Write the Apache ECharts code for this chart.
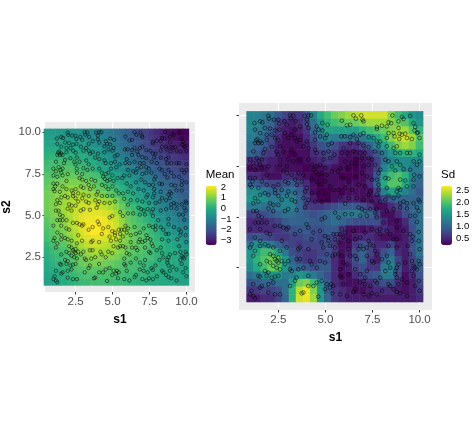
<!DOCTYPE html>
<html><head><meta charset="utf-8">
<style>html,body{margin:0;padding:0;background:#fff}#c{width:474px;height:442px}</style>
<script src="https://cdn.jsdelivr.net/npm/echarts@6/dist/echarts.min.js"></script>
</head><body><div id="c"></div>
<script>
const gridLevels=[1,1.375,1.75,2.125,2.5,2.875,3.25,3.625,4,4.375,4.75,5.125,5.5,5.875,6.25,6.625,7,7.375,7.75,8.125,8.5,8.875,9.25,9.625,10];
const axisTicks=[2.5,5,7.5,10];
const meanTicks=[-3,-2,-1,0,1,2];
const sdTicks=[0.5,1,1.5,2,2.5];
const viridis=['#440154','#472d7b','#3b528b','#2c728e','#21908c','#27ad81','#5dc863','#aadc32','#fde725'];

// rows run from s2 = 10 (top) down to s2 = 1; columns from s1 = 1 to s1 = 10
const meanRows=[
[-.4,-.4,-.5,-.5,-.6,-.6,-.7,-.8,-.9,-1,-1.1,-1.2,-1.4,-1.6,-1.8,-2,-2.2,-2.4,-2.6,-2.8,-3,-3.2,-3.3,-3.4,-3.4],
[-.3,-.3,-.4,-.4,-.5,-.5,-.6,-.7,-.8,-.9,-1,-1.1,-1.3,-1.5,-1.7,-1.9,-2.1,-2.3,-2.5,-2.7,-2.9,-3.1,-3.2,-3.3,-3.3],
[-.2,-.2,-.2,-.2,-.3,-.3,-.4,-.5,-.6,-.7,-.8,-1,-1.2,-1.4,-1.6,-1.8,-2,-2.2,-2.4,-2.6,-2.7,-2.9,-3,-3.1,-3.2],
[0,0,0,0,-.1,-.1,-.2,-.3,-.4,-.5,-.7,-.9,-1.1,-1.3,-1.5,-1.7,-1.9,-2.1,-2.2,-2.4,-2.5,-2.7,-2.8,-2.9,-3],
[.1,.2,.2,.2,.1,.1,0,-.1,-.2,-.4,-.5,-.7,-.9,-1.1,-1.3,-1.5,-1.7,-1.9,-2,-2.2,-2.3,-2.5,-2.6,-2.7,-2.8],
[.3,.4,.4,.4,.4,.3,.2,.1,0,-.2,-.4,-.5,-.7,-.9,-1.1,-1.3,-1.5,-1.7,-1.8,-2,-2.1,-2.3,-2.4,-2.5,-2.6],
[.4,.5,.6,.6,.6,.5,.4,.3,.2,0,-.2,-.4,-.6,-.7,-.9,-1.1,-1.3,-1.5,-1.6,-1.8,-1.9,-2.1,-2.2,-2.3,-2.4],
[.6,.6,.7,.8,.8,.8,.7,.6,.5,.4,.2,0,-.2,-.4,-.5,-.7,-.9,-1.1,-1.3,-1.6,-1.8,-1.9,-2,-2.1,-2.2],
[.7,.8,.9,1,1,1,1,.9,.8,.6,.4,.2,0,-.2,-.3,-.5,-.7,-.9,-1.1,-1.4,-1.6,-1.7,-1.8,-1.9,-2],
[.8,.9,1,1.1,1.2,1.2,1.2,1.1,1,.8,.7,.5,.3,.1,-.1,-.3,-.5,-.7,-.9,-1.2,-1.4,-1.5,-1.7,-1.8,-1.9],
[.9,1,1.1,1.2,1.3,1.4,1.4,1.3,1.2,1.1,.9,.7,.5,.3,.1,-.1,-.3,-.5,-.7,-1.1,-1.2,-1.4,-1.5,-1.7,-1.8],
[.9,1,1.1,1.3,1.4,1.5,1.6,1.6,1.5,1.5,1.3,1.2,.9,.6,.3,.1,-.1,-.3,-.5,-.9,-1.1,-1.3,-1.4,-1.6,-1.7],
[.9,1,1.2,1.3,1.5,1.6,1.7,1.7,1.8,1.7,1.6,1.4,1.1,.8,.5,.3,.1,-.1,-.3,-.8,-1,-1.2,-1.3,-1.5,-1.6],
[.8,1,1.1,1.3,1.5,1.7,1.8,1.9,1.9,1.9,1.8,1.7,1.4,1,.7,.4,.2,0,-.2,-.6,-.8,-1,-1.2,-1.3,-1.5],
[.7,.9,1,1.2,1.4,1.7,1.9,2,2,2.05,2,1.8,1.6,1.2,.8,.6,.4,.2,0,-.3,-.6,-.8,-1,-1.2,-1.3],
[.6,.8,1,1.1,1.4,1.6,1.9,2,2.1,2.1,2,1.9,1.7,1.3,.9,.7,.5,.4,.2,-.1,-.4,-.6,-.8,-1,-1.1],
[.5,.7,.9,1,1.3,1.5,1.8,2,2.1,2.1,2,1.9,1.7,1.3,1,.8,.6,.5,.3,.1,-.2,-.4,-.6,-.7,-.9],
[.4,.6,.8,.9,1.1,1.4,1.7,1.8,1.9,1.9,1.8,1.7,1.6,1.2,1,.8,.7,.6,.4,.2,0,-.2,-.4,-.5,-.7],
[.2,.4,.6,.7,1,1.2,1.4,1.6,1.7,1.7,1.6,1.5,1.3,1.1,.9,.8,.7,.6,.5,.3,.1,-.1,-.2,-.4,-.5],
[.1,.3,.4,.5,.8,1,1.2,1.3,1.4,1.5,1.4,1.3,1.2,1,.8,.7,.6,.5,.4,.2,.1,0,-.1,-.2,-.3],
[0,.2,.3,.4,.5,.7,.9,1.1,1.2,1.2,1.2,1.1,1,.8,.7,.6,.5,.4,.4,.2,.1,0,-.1,-.2,-.3],
[-.1,.1,.2,.3,.5,.7,.8,.9,1,1,.9,.8,.7,.6,.5,.4,.4,.3,.2,.1,0,0,-.1,-.2,-.2],
[-.1,0,.1,.2,.3,.5,.6,.7,.7,.7,.7,.6,.6,.5,.4,.4,.3,.2,.1,.1,0,-.1,-.1,-.2,-.2],
[-.2,-.1,0,.1,.2,.3,.4,.5,.5,.5,.5,.5,.4,.4,.3,.3,.2,.2,.1,0,0,-.1,-.2,-.2,-.3],
[-.3,-.2,-.1,0,.1,.2,.3,.3,.4,.4,.4,.3,.3,.3,.2,.2,.1,.1,0,0,-.1,-.1,-.2,-.3,-.3]
];
const sdRows=[
[1.3,1.3,1.2,1.1,.9,.7,.6,.6,.8,1.3,1.7,1.9,2.1,2.2,2.3,2.4,2.5,2.5,2.5,2.5,2.2,1.9,1.7,1.5,1.4],
[1.3,1.3,1.1,1,.7,.5,.4,.5,.7,1.1,1.5,1.8,1.9,2,2.1,2.1,2.2,2.3,2.3,2.3,2.2,2.1,2,1.7,1.5],
[1.3,1.2,1.1,.9,.6,.4,.3,.4,.6,1,1.3,1.6,1.6,1.6,1.6,1.6,1.8,1.9,2,2.1,2.2,2.3,2.3,2,1.8],
[1.2,1.2,1,.8,.5,.3,.3,.3,.5,.8,1.1,1.3,1.2,1.2,1.1,1.1,1.2,1.4,1.7,1.9,2.2,2.4,2.5,2.3,2],
[1.1,1,.9,.7,.4,.3,.3,.3,.4,.6,.8,.9,.8,.6,.5,.5,.7,1,1.3,1.6,1.9,2.2,2.3,2.2,1.9],
[1,.9,.7,.6,.4,.3,.2,.3,.3,.5,.6,.7,.6,.4,.3,.3,.4,.6,.9,1.2,1.5,1.7,1.8,1.8,1.7],
[.5,.5,.5,.4,.4,.3,.3,.2,.3,.4,.5,.6,.5,.3,.3,.2,.3,.4,.7,1.1,1.3,1.4,1.4,1.4,1.4],
[.3,.3,.3,.4,.3,.3,.3,.3,.2,.3,.3,.4,.3,.3,.2,.2,.3,.4,.7,1.3,1.6,1.6,1.4,1.2,1.2],
[.5,.5,.4,.3,.3,.5,.5,.4,.3,.2,.2,.3,.3,.2,.2,.2,.3,.4,.9,1.6,1.9,2,1.8,1.3,1.1],
[1,.9,.8,.7,.7,.8,.9,.7,.5,.3,.2,.3,.3,.3,.3,.3,.3,.5,1,1.7,2,2,1.7,1.2,1],
[1.4,1.4,1.2,1,1,1.1,1.1,.9,.6,.3,.2,.2,.3,.2,.3,.3,.3,.3,.7,1.3,1.6,1.5,1.3,1.1,.9],
[1.5,1.5,1.4,1.2,1.2,1.3,1.3,1,.7,.4,.2,.2,.3,.4,.4,.4,.3,.3,.4,.7,.9,1,1,1,1],
[1.2,1.2,1.1,1.1,1.2,1.3,1.3,1,.7,.6,.6,.7,.8,.9,.9,.9,.8,.6,.3,.3,.5,.7,.9,1,1.1],
[.7,.7,.8,.9,1,1.1,1.1,1,.9,.8,.9,1,1.1,1.1,1.2,1.2,1.1,1,.7,.3,.3,.5,.8,1,1.1],
[.5,.5,.5,.6,.7,.9,1,1,1,.9,.9,1,1.1,1,.9,.8,.8,.8,.8,.5,.3,.3,.5,.9,1.1],
[.5,.5,.5,.5,.6,.7,.8,.9,.9,.8,.8,.9,.9,.6,.3,.3,.3,.4,.5,.5,.4,.3,.4,.8,1.1],
[.8,.9,.8,.7,.6,.6,.7,.7,.8,.8,.7,.8,.7,.4,.3,.4,.5,.5,.4,.3,.3,.3,.4,.8,1.1],
[1.2,1.4,1.4,1.2,1,.8,.7,.6,.7,.7,.7,.8,.6,.3,.3,.6,.8,.7,.5,.5,.7,.4,.4,.8,1.1],
[1.5,1.7,1.9,1.9,1.6,1.2,.8,.7,.6,.6,.7,.8,.6,.3,.4,.8,1,.7,.5,.8,1,.5,.4,.8,1.1],
[1.5,1.8,2,2.1,2,1.5,1,.7,.6,.6,.8,.8,.5,.3,.5,.8,1,.6,.4,1,1.2,.7,.4,.7,1],
[1.4,1.7,1.9,2.1,2,1.5,1.1,1,.9,.8,.9,.9,.5,.3,.4,.7,.8,.6,.6,1.2,1.3,.8,.4,.6,.9],
[1.1,1.2,1.4,1.5,1.5,1.2,1.3,1.5,1.4,1.2,1,.8,.5,.3,.3,.5,.7,.8,.9,1.2,1.2,.7,.3,.5,.8],
[.8,.9,1,1,1.1,1.1,1.6,2.1,2.2,1.9,1.4,.9,.5,.4,.3,.3,.4,.5,.7,.8,.8,.5,.3,.4,.7],
[.6,.6,.7,.7,.8,1.1,1.8,2.4,2.6,2.2,1.5,.9,.6,.5,.4,.3,.3,.4,.5,.5,.5,.4,.3,.4,.6],
[.4,.4,.5,.5,.7,1,1.8,2.5,2.6,2.3,1.5,1,.6,.5,.4,.4,.4,.4,.4,.4,.4,.4,.4,.4,.5]
];

const sitesUpperLeft=[[1.97,9.97],[2,9.83],[1.53,9.7],[1.23,9.61],[1.65,9.65],[2.27,9.78],[2.5,9.78],[2.55,9.58],[3.12,9.99],[3.3,9.97],[3.16,9.84],[3.89,9.97],[4.1,9.99],[4.24,9.99],[4.01,9.78],[3.42,9.7],[2.82,9.7],[2.95,9.53],[4.01,9.56],[4.1,9.37],[4.54,9.45],[4.84,9.61],[5.11,9.53],[4.63,9.29],[4.45,9.15],[4.84,9.25],[5.07,9.04],[4.72,8.96],[4.99,8.88],[1.79,9.37],[2.06,9.34],[2.33,9.25],[2.56,9.29],[1.26,9.29],[1.53,9.12],[1.88,9.04],[2.15,9.04],[3.39,9.29],[3.66,9.45],[3.21,9.04],[2.86,9.12],[1.39,8.83],[1.32,8.76],[1.53,8.71],[1.44,8.63],[1.62,8.63],[1.26,8.63],[1.88,8.79],[2.33,8.88],[2.5,8.76],[3.03,8.88],[3.39,8.88],[3.66,8.79],[3.48,8.71],[4.01,8.71],[4.45,8.79],[5.34,8.63],[5.16,8.55],
[1.79,8.33],[2.15,8.43],[2.59,8.47],[2.41,8.22],[2.77,8.22],[3.21,8.3],[3.83,8.47],[4.1,8.38],[4.45,8.3],[1.17,8.22],[1.71,8.14],[2.5,8.06],[3.39,8.06],[4.54,8.14],[4.9,8.14],[5.16,8.22],[5.48,8.06],[1,7.81],[1.35,7.89],[1.62,7.81],[1.47,7.73],[1.17,7.65],[1.53,7.56],[2.59,7.81],[3.03,7.84],[3.3,7.73],[3.66,7.81],[4.1,7.81],[4.9,7.81],[5.25,7.89],[2.59,7.56],[2.95,7.48],[4.28,7.56],[4.54,7.48],[4.72,7.56],[4.99,7.4],[1.97,7.48],[1,7.4],[1.26,7.32],[1.62,7.4],[1.88,7.07],[1.26,6.91],[1,6.91],[2.95,7.15],[2.77,7.24],[3.21,7.07],[4.36,7.32],[4.49,7.19],[4.63,7.07],[4.81,7.15],[3.57,7.15],[3.83,7.07],[5.07,7.07],[5.34,7.24],
[1,6.58],[1.12,6.74],[1.08,6.46],[1.62,6.74],[1.44,6.42],[1.88,6.58],[2.24,6.5],[2.5,6.58],[2.86,6.74],[3.03,6.66],[3.39,6.83],[3.48,6.58],[3.74,6.74],[4.28,6.83],[4.54,6.74],[4.72,6.58],[4.99,6.74],[5.25,6.5],[5.43,6.33],[4.01,6.42],[2.33,6.33],[2.68,6.33],[1.53,6.08],[1.79,6.17],[1.97,6.08],[2.33,6.17],[2.5,6.03],[3.03,6.25],[3.39,6.17],[3.92,6.25],[4.28,6.17],[4.63,6.17],[4.99,6.17],[1.26,5.92],[1.44,5.75],[1.17,5.67],[2.06,5.67],[2.24,5.59],[2.5,5.59],[2.68,5.84],[2.95,6.03],[3.21,5.84],[3.39,5.75],[3.83,5.92],[4.01,5.67],[4.1,5.84],[4.45,5.75],[4.81,5.75],[5.16,5.84]];
const sitesUpperRight=[[6.49,9.99],[6.62,9.83],[6.9,9.99],[6.97,9.78],[6.14,9.5],[6.32,9.53],[5.87,9.73],[7.02,9.7],[8.56,9.99],[9.06,9.91],[9.15,9.81],[9.5,9.97],[9.68,9.61],[8.88,9.7],[8.35,9.65],[8.49,9.61],[8,9.48],[8.26,9.45],[7.73,9.42],[7.73,9.32],[9.77,9.42],[9.73,9.25],[9.91,9.15],[8.88,9.37],[8.62,9.12],[8.94,9.09],[9.06,9.04],[9.24,9.09],[9.33,8.88],[8.67,8.96],[8.92,8.83],[9.59,8.83],[10,8.88],[9.86,9.12],[8.35,9.12],
[5.84,8.96],[6.02,8.96],[6.32,8.92],[6.49,9.04],[6.85,9.04],[7.02,9.12],[7.29,8.92],[7.56,8.88],[7.73,8.71],[7.91,8.71],[8.26,8.88],[6.67,8.83],[5.96,8.38],[6.32,8.63],[6.76,8.63],[7.02,8.5],[7.29,8.43],[7.82,8.47],[8.26,8.47],[8.62,8.38],[8.79,8.47],[8.71,8.14],[8.97,8.14],[9.33,8.14],[9.5,8.14],[9.68,7.73],[10,8.06],[10,7.73],[5.87,8.14],[6.14,8.14],[6.49,8.22],[6.85,8.14],[7.11,8.14],[7.64,8.22],[8,8.14],
[6.67,7.81],[6.94,7.89],[7.29,7.89],[7.47,7.81],[6.05,7.73],[6.4,7.65],[6.58,7.56],[5.79,7.4],[6.14,7.4],[7.02,7.48],[7.29,7.56],[7.64,7.56],[8.18,7.81],[8.35,7.73],[8.79,7.73],[8.97,7.56],[8.53,7.48],[8.71,7.28],[7.91,7.32],[7.82,7.15],[9.15,7.35],[9.86,7.56],[9.5,7.32],[9.71,7.07],[8.18,6.91],[8.35,6.88],[7.73,6.83],[7.82,6.58],[8.97,6.83],[9.24,6.79],[9.68,6.83],[10,6.99],[5.66,7.24],[5.96,6.91],[6.23,6.74],[6.58,6.99],[6.94,7.15],[7.2,6.99],[7.47,6.83],
[8.88,6.42],[8.97,6.33],[8.79,6.25],[7.82,6.33],[8.26,6.42],[9.33,6.5],[9.68,6.5],[5.7,6.33],[6.05,6.42],[6.4,6.33],[6.76,6.58],[7.11,6.5],[7.38,6.25],[7.73,6.09],[7.29,6.09],[8.35,6.04],[8.88,6.04],[9.15,5.75],[9.33,5.67],[8.97,5.67],[9.68,5.67],[9.95,5.84],[10,5.75],[5.79,6],[6.23,5.92],[6.67,5.92],[7.02,5.84],[7.47,5.75],[7.91,5.75],[8.18,5.84],[8.62,5.92],[6.05,5.65]];
const sitesLowerLeft=[[1.17,5.29],[1.35,5.29],[1.44,5.05],[1.62,4.97],[1.97,5.41],[2.23,5.29],[2.85,5.29],[3.47,5.34],[3.92,5.46],[3.03,5.38],[1.26,4.72],[1.44,4.72],[1.62,4.72],[1.88,4.72],[2.32,4.56],[2.59,4.56],[2.77,4.47],[3.03,4.47],[2.94,4.39],[4,4.64],[4.09,4.47],[4.8,4.88],[4.98,4.97],[5.51,5.21],[4.98,4.06],[5.16,3.98],[5.42,4.15],[5.16,3.82],[5.51,3.9],[1,4.39],[1.53,4.39],[1.88,4.23],[2.06,4.15],[3.38,4.15],[3.65,4.31],[4.36,4.23],[4.71,4.31],[1.26,3.98],[1.53,3.82],[2.68,3.82],[2.94,3.49],[4.27,3.9],[4.8,3.74],[5.24,3.57],[5.51,3.49],
[1.08,3.65],[1,3.49],[1.53,3.57],[1.79,3.65],[1.97,3.57],[2.23,3.49],[1.26,3.33],[2.59,3.33],[3.56,3.41],[3.65,3.49],[4.09,3.41],[5.07,3.16],[5.37,3.08],[5.51,3.16],[4.89,3.49],[2.06,3.16],[2.23,3.08],[2.32,2.92],[2.41,2.83],[2.5,2.75],[2.5,3],[2.68,2.83],[1.88,2.83],[2.06,2.75],[2.23,2.59],[2.41,2.5],[2.59,2.42],[1.53,2.67],[1.17,3.08],[3.47,2.92],[3.65,2.92],[4.18,2.83],[4.27,2.67],[4.71,2.83],[4.98,2.75],[3.03,2.83],[2.85,2.67],[4.54,2.5],[3.83,2.5],[3.56,2.42],[3.12,2.42],[3.21,2.34],
[1.79,2.34],[1.97,2.26],[1.44,2.1],[1.53,2.06],[1.88,2.1],[2.15,2.01],[2.32,2.06],[2.5,2.1],[3.47,2.01],[4.09,2.1],[4.8,1.85],[5.07,1.69],[5.3,1.69],[5.42,1.6],[5.24,1.52],[4.54,1.77],[1.97,1.69],[1.62,1.6],[1.17,1.69],[4.36,1.6],[4.09,1.6],[3.12,1.6],[3.38,1.85],[2.23,1.77],[3.83,1.28],[3.74,1.24],[4.62,1.08],[4.98,1.44],[5.37,1.24],[1.08,1.36],[1,1.19],[1.17,1.11],[1.53,1.52],[1.97,1.28],[2.32,1.19],[2.59,1.19],[1.26,1]];
const sitesLowerRight=[[6.76,5.46],[6.94,5.38],[7.11,5.29],[7.38,5.38],[7.64,5.21],[7.73,5.38],[8.26,5.29],[8.62,5.38],[8.97,5.46],[9.33,5.41],[9.86,5.46],[9.95,5.29],[9.5,5.05],[9.77,5.05],[9.86,4.75],[6.05,5.13],[6.4,5.13],[5.7,4.97],[6.85,5.05],[7.2,5.05],[7.73,4.97],[8.79,4.8],[8.09,4.72],[5.87,4.39],[6.05,4.23],[5.79,4.15],[5.96,3.98],[6.49,4.31],[7.11,4.23],[7.47,4.39],[7.73,4.31],[7.91,4.39],[7.91,4.15],[8.26,4.31],[8.44,4.15],[8.79,4.47],[9.15,4.31],[9.5,4.15],[9.63,4.03],[9.95,4.26],[5.61,4.15],[5.7,3.74],
[6.23,3.82],[6.58,3.9],[6.85,3.98],[7.29,3.82],[7.38,3.65],[7.56,3.57],[7.2,3.49],[7.02,3.41],[7.64,3.33],[7.73,3.16],[6.76,3.41],[6.85,3.57],[8.62,3.9],[8.79,3.9],[8.35,3.57],[8.79,3.49],[9.59,3.82],[9.95,3.82],[10,3.41],[9.38,3.57],[6.23,3.41],[5.7,3.16],[5.87,3.08],[5.96,2.75],[6.14,2.67],[5.79,2.42],[6.32,3.08],[6.58,3.08],[6.67,2.92],[7.2,3.08],[7.47,2.83],[7.56,2.75],[8,2.92],[8.26,3.08],[8.35,2.75],[8.18,2.34],[8.44,2.5],[8.71,2.34],[8.79,2.5],[8.88,2.67],[9.5,3.16],[9.59,2.83],[9.68,2.59],[9.77,2.5],[9.86,2.42],[9.59,2.34],[9.24,2.75],[10,2.67],[9.95,2.83],
[5.79,2.1],[5.87,2.01],[6.23,2.18],[6.58,2.42],[6.85,2.18],[7.2,2.34],[7.11,2.01],[7.64,1.85],[7.73,1.74],[7.91,2.01],[8.71,2.18],[8.79,2.01],[9.06,1.93],[9.33,1.77],[9.68,2.1],[9.95,1.85],[5.96,1.69],[6.85,1.77],[7.11,1.69],[7.38,1.6],[8.35,1.69],[8.44,1.6],[8.88,1.69],[6.58,1.44],[6.49,1.31],[7.47,1.24],[7.73,1.19],[8,1.36],[8.62,1.44],[8.79,1.31],[8.97,1.24],[9.33,1.11],[9.77,1.6],[10,1.36],[5.79,1.19],[6.14,1.11],[7.02,1.19],[7.29,1.11]];

const sites=[...sitesUpperLeft,...sitesUpperRight,...sitesLowerLeft,...sitesLowerRight];
const FONT='"Liberation Sans",Arial,sans-serif';

function cells(rows){const o=[];rows.forEach((r,i)=>r.forEach((v,j)=>o.push([j,i,v])));return o;}
const panels=[
  {left:38,top:122,width:157,height:170,xr:[0.43,10.58],yr:[0.42,10.6],dot:3.4},
  {left:239,top:103,width:193,height:207,xr:[0.41,10.66],yr:[0.42,10.6],dot:3.7}
];
const half=0.1875;
function rasterRect(p){
  const fx=p.width/(p.xr[1]-p.xr[0]),fy=p.height/(p.yr[1]-p.yr[0]);
  return {left:p.left+(1-half-p.xr[0])*fx,width:(9+2*half)*fx,top:p.top+(p.yr[1]-10-half)*fy,height:(9+2*half)*fy};
}
const grids=[],xAxes=[],yAxes=[];
panels.forEach((p,k)=>{
  grids.push({left:p.left,top:p.top,width:p.width,height:p.height,show:true,backgroundColor:'#ebebeb',borderWidth:0});
  const lab={color:'#4d4d4d',fontSize:11.5,fontFamily:FONT,formatter:v=>v.toFixed(1),customValues:axisTicks};
  const common={type:'value',axisLine:{show:false},
    axisTick:{show:true,length:2.5,lineStyle:{color:'#333'},customValues:axisTicks},
    splitLine:{show:true,lineStyle:{color:'#fff',width:1},customValues:axisTicks}};
  const nameStyle={fontWeight:'bold',fontSize:12,color:'#000',fontFamily:FONT};
  xAxes.push({...common,gridIndex:k,min:p.xr[0],max:p.xr[1],axisLabel:{...lab,margin:4},name:'s1',nameLocation:'middle',nameGap:22,nameTextStyle:nameStyle});
  yAxes.push({...common,gridIndex:k,min:p.yr[0],max:p.yr[1],axisLabel:{...lab,margin:4,show:k===0},
    name:k===0?'s2':'',nameLocation:'middle',nameGap:32,nameTextStyle:nameStyle});
});
// raster grids: one band per modelled location
panels.forEach((p,k)=>{
  const r=rasterRect(p);
  grids.push({left:r.left,top:r.top,width:r.width,height:r.height,show:false});
  xAxes.push({type:'category',gridIndex:k+2,data:gridLevels,show:false});
  yAxes.push({type:'category',gridIndex:k+2,data:gridLevels.slice().reverse(),inverse:true,show:false});
});
// colour-bar label axes
const bars=[
  {left:205.7,top:186,width:11,height:59,range:[-3.47,2.12],ticks:meanTicks,fmt:v=>String(v).replace('-','\u2212')},
  {left:441,top:186,width:11,height:59,range:[0.21,2.67],ticks:sdTicks,fmt:v=>v.toFixed(1)}
];
bars.forEach((b,k)=>{
  grids.push({left:b.left,top:b.top,width:b.width,height:b.height,show:false});
  xAxes.push({type:'value',gridIndex:k+4,show:false,min:0,max:1});
  yAxes.push({type:'value',gridIndex:k+4,position:'right',min:b.range[0],max:b.range[1],
    axisLine:{show:false},splitLine:{show:false},
    axisTick:{show:true,inside:true,length:2,lineStyle:{color:'#fff',width:.6},customValues:b.ticks},
    axisLabel:{show:true,margin:4,color:'#000',fontSize:9.5,fontFamily:FONT,formatter:b.fmt,customValues:b.ticks},z:5});
});
const heat=(k,rows)=>({type:'heatmap',xAxisIndex:k+2,yAxisIndex:k+2,data:cells(rows),z:2,itemStyle:{borderWidth:0},emphasis:{disabled:true},progressive:0,silent:true});
const dots=k=>({type:'scatter',xAxisIndex:k,yAxisIndex:k,data:sites,symbol:'circle',symbolSize:panels[k].dot,z:3,silent:true,clip:false,
  itemStyle:{color:'rgba(0,0,0,0)',borderColor:'rgba(0,0,0,0.8)',borderWidth:0.8},progressive:0});
const vm=(b,idx)=>({type:'continuous',show:true,seriesIndex:idx,min:b.range[0],max:b.range[1],left:b.left,top:b.top,itemWidth:b.width,itemHeight:b.height,padding:0,calculable:false,hoverLink:false,inRange:{color:viridis},z:4});
const legendTitle=(text,left)=>({text,left,top:169,padding:0,textStyle:{fontSize:11.5,fontWeight:'normal',color:'#000',fontFamily:FONT}});
const chart=echarts.init(document.getElementById('c'),null,{renderer:'canvas'});
chart.setOption({
  animation:false,backgroundColor:'#fff',
  title:[legendTitle('Mean',205.7),legendTitle('Sd',441)],
  grid:grids,xAxis:xAxes,yAxis:yAxes,
  visualMap:[vm(bars[0],0),vm(bars[1],2)],
  series:[heat(0,meanRows),dots(0),heat(1,sdRows),dots(1)]
});
</script></body></html>
